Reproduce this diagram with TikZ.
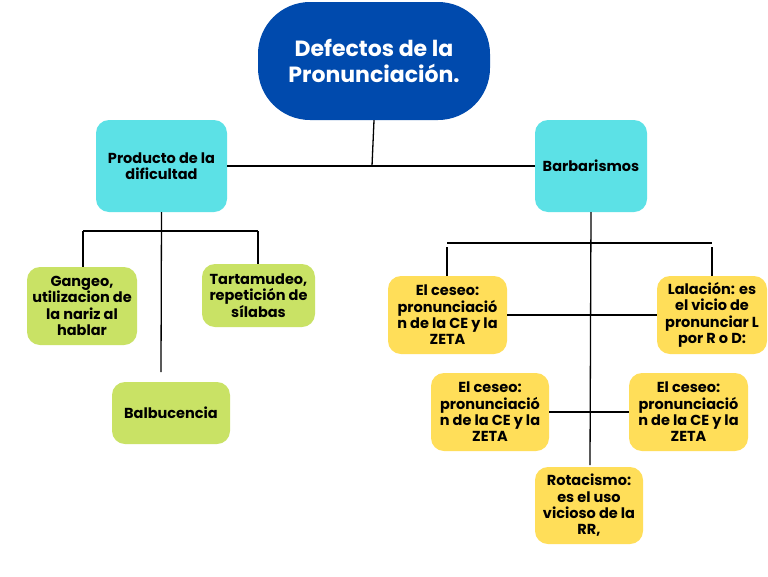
\documentclass[tikz,border=0pt]{standalone}
\usepackage{fontspec}
\setmainfont{Poppins}
\definecolor{cblue}{HTML}{004AAD}
\definecolor{ccyan}{HTML}{5CE1E6}
\definecolor{cgreen}{HTML}{C9E265}
\definecolor{cyellow}{HTML}{FFDE59}
\begin{document}
\begin{tikzpicture}[x=1pt,y=1pt,
  box/.style={rectangle,rounded corners=13pt,draw=none,inner sep=1pt,align=center,
    font=\fontsize{14.5}{16.3}\selectfont\bfseries,text=black},
  cbox/.style={box,fill=ccyan},
  gbox/.style={box,fill=cgreen},
  ybox/.style={box,fill=cyellow},
  link/.style={draw=black,line width=1.3pt}]
\useasboundingbox[fill=white] (0,0) rectangle (768,-576);
\node[rectangle,rounded corners=52pt,fill=cblue,text=white,align=center,
  minimum width=232pt,minimum height=118pt,
  font=\fontsize{22}{25.5}\selectfont\bfseries] (top) at (374,-61) {Defectos de la\\Pronunciación.};
\node[cbox,minimum width=131pt,minimum height=92pt] (prod) at (161.5,-166) {Producto de la\\dificultad};
\node[cbox,minimum width=112pt,minimum height=92pt] (barb) at (591,-166) {Barbarismos};
\node[gbox,minimum width=110pt,minimum height=78pt] (gang) at (82,-306) {Gangeo,\\utilizacion de\\la nariz al\\hablar};
\node[gbox,minimum width=113pt,minimum height=63pt] (tart) at (258.5,-295.5) {Tartamudeo,\\repetición de\\sílabas};
\node[gbox,minimum width=118pt,minimum height=62pt] (balb) at (171,-413) {Balbucencia};
\node[ybox,minimum width=119pt,minimum height=78pt] (ces1) at (447.5,-315) {El ceseo:\\ pronunciació\\n de la CE y la\\ZETA};
\node[ybox,minimum width=110pt,minimum height=78pt] (lala) at (712,-315) {Lalación: es\\el vicio de\\pronunciar L\\por R o D:};
\node[ybox,minimum width=118pt,minimum height=78pt] (ces2) at (490,-412) {El ceseo:\\ pronunciació\\n de la CE y la\\ZETA};
\node[ybox,minimum width=119pt,minimum height=78pt] (ces3) at (688.5,-412) {El ceseo:\\ pronunciació\\n de la CE y la\\ZETA};
\node[ybox,minimum width=108pt,minimum height=77pt] (rota) at (589,-505.5) {Rotacismo:\\es el uso\\vicioso de la\\RR,};
% junction coordinates
\coordinate (jt) at (372,-166);
\coordinate (lb) at (161,-372);
\coordinate (ll) at (83,-231);
\coordinate (lr) at (258,-231);
\coordinate (rb) at (590,-465);
\coordinate (rl) at (447,-243);
\coordinate (rr) at (712,-243);
\coordinate (rl2) at (447,-247);
\coordinate (rr2) at (712,-247);
% connectors
\draw[link] (top.south) -- (jt);
\draw[link] (prod.east) -- (barb.west);
\draw[link] (prod.south) -- (lb);
\draw[link] (ll) -- (lr);
\draw[link] (ll) -- (ll |- gang.north);
\draw[link] (lr) -- (lr |- tart.north);
\draw[link] (barb.south) -- (rb);
\draw[link] (rl) -- (rr);
\draw[link] (rl2) -- (rl2 |- ces1.north);
\draw[link] (rr2) -- (rr2 |- lala.north);
\draw[link] (ces1.east) -- (lala.west);
\draw[link] (ces2.east) -- (ces3.west);
\end{tikzpicture}
\end{document}
